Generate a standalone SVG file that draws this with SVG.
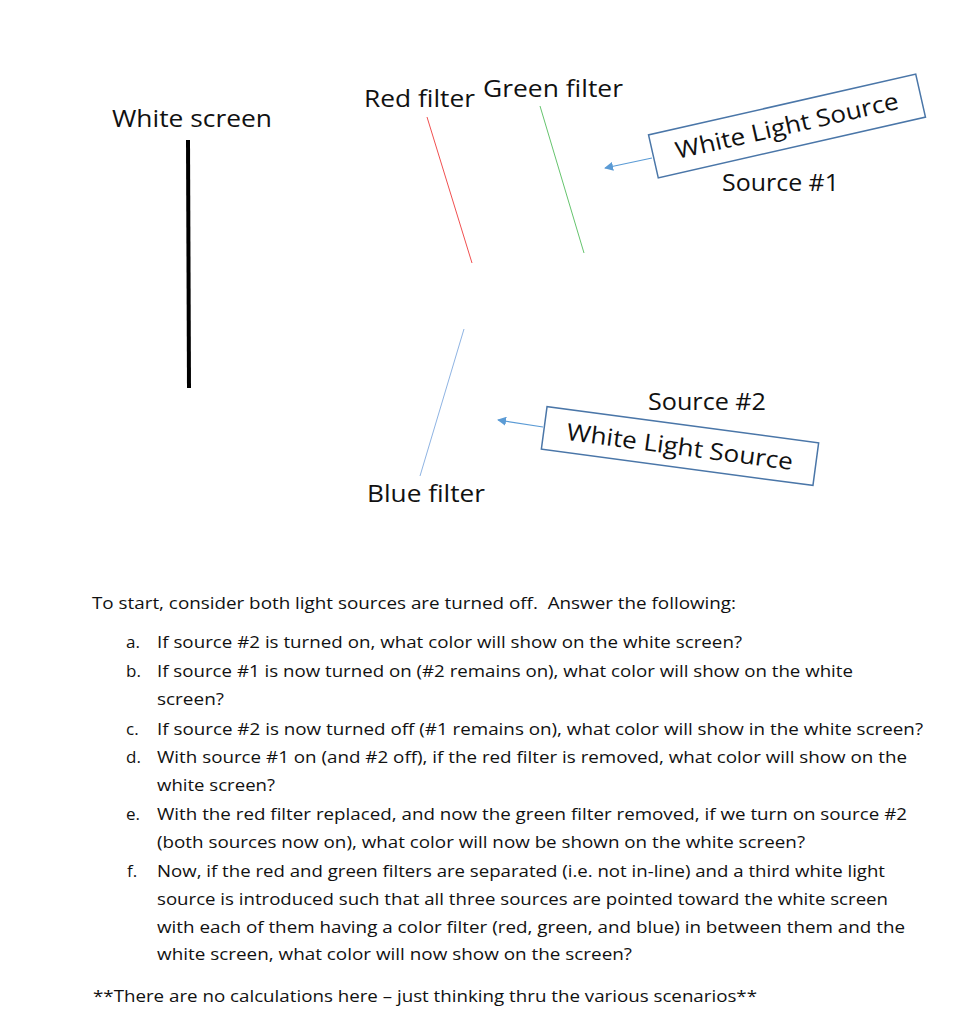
<svg xmlns="http://www.w3.org/2000/svg" width="961" height="1024" viewBox="0 0 961 1024">
<style>
.lbl{font-family:"Open Sans",Lato,"Liberation Sans",sans-serif;font-size:23.5px;fill:#111;font-variant-ligatures:none;}
.body{font-family:"Open Sans",Lato,"Liberation Sans",sans-serif;font-size:17px;fill:#111;white-space:pre;font-variant-ligatures:none;}
.box{fill:#fff;stroke:#4a76a8;stroke-width:1.5;}
.arr{stroke:#5b9bd5;stroke-width:1.2;fill:none;marker-end:url(#ah);}
</style>
<defs>
<marker id="ah" viewBox="0 0 10 10" refX="9" refY="5" markerWidth="9" markerHeight="9" markerUnits="userSpaceOnUse" orient="auto">
<path d="M0,0 L10,5 L0,10 z" fill="#5b9bd5"/>
</marker>
</defs>
<rect width="961" height="1024" fill="#fff"/>

<g id="screen">
<line x1="188" y1="140" x2="189" y2="388" stroke="#000" stroke-width="4"/>
<text class="lbl" x="112" y="127" textLength="160" lengthAdjust="spacingAndGlyphs">White screen</text>
</g>

<g id="red-filter">
<line x1="427" y1="117" x2="472" y2="263" stroke="#f05050" stroke-width="1"/>
<text class="lbl" x="364" y="107" textLength="111" lengthAdjust="spacingAndGlyphs">Red filter</text>
</g>

<g id="green-filter">
<line x1="540" y1="106" x2="584" y2="253" stroke="#66c46e" stroke-width="1"/>
<text class="lbl" x="483" y="97" textLength="140" lengthAdjust="spacingAndGlyphs">Green filter</text>
</g>

<g id="blue-filter">
<line x1="464" y1="329" x2="420" y2="476" stroke="#8fb4e3" stroke-width="1"/>
<text class="lbl" x="367" y="502" textLength="118" lengthAdjust="spacingAndGlyphs">Blue filter</text>
</g>

<g id="source1">
<g transform="translate(787,126) rotate(-12.8)">
<rect class="box" x="-137" y="-22" width="274" height="44"/>
<text class="lbl" x="0" y="8" text-anchor="middle" textLength="228" lengthAdjust="spacingAndGlyphs">White Light Source</text>
</g>
<text class="lbl" x="722" y="191" textLength="117" lengthAdjust="spacingAndGlyphs">Source #1</text>
</g>

<g id="source2">
<g transform="translate(680,446) rotate(7.6)">
<rect class="box" x="-137" y="-21.5" width="274" height="43"/>
<text class="lbl" x="0" y="9" text-anchor="middle" textLength="228" lengthAdjust="spacingAndGlyphs">White Light Source</text>
</g>
<text class="lbl" x="648" y="410" textLength="118" lengthAdjust="spacingAndGlyphs">Source #2</text>
</g>

<g id="connectors">
<line class="arr" x1="652" y1="158" x2="605" y2="168"/>
<line class="arr" x1="543" y1="427" x2="498" y2="420"/>
</g>

<g id="questions">
<text class="body" x="92" y="609" textLength="644" lengthAdjust="spacingAndGlyphs">To start, consider both light sources are turned off.  Answer the following:</text>
<text class="body" x="126" y="648">a.</text>
<text class="body" x="157" y="648" textLength="585" lengthAdjust="spacingAndGlyphs">If source #2 is turned on, what color will show on the white screen?</text>
<text class="body" x="126" y="677">b.</text>
<text class="body" x="157" y="677" textLength="696" lengthAdjust="spacingAndGlyphs">If source #1 is now turned on (#2 remains on), what color will show on the white</text>
<text class="body" x="157" y="705" textLength="67" lengthAdjust="spacingAndGlyphs">screen?</text>
<text class="body" x="126" y="735">c.</text>
<text class="body" x="157" y="735" textLength="766" lengthAdjust="spacingAndGlyphs">If source #2 is now turned off (#1 remains on), what color will show in the white screen?</text>
<text class="body" x="126" y="763">d.</text>
<text class="body" x="157" y="763" textLength="750" lengthAdjust="spacingAndGlyphs">With source #1 on (and #2 off), if the red filter is removed, what color will show on the</text>
<text class="body" x="157" y="791" textLength="118" lengthAdjust="spacingAndGlyphs">white screen?</text>
<text class="body" x="126" y="820">e.</text>
<text class="body" x="157" y="820" textLength="750" lengthAdjust="spacingAndGlyphs">With the red filter replaced, and now the green filter removed, if we turn on source #2</text>
<text class="body" x="157" y="848" textLength="648" lengthAdjust="spacingAndGlyphs">(both sources now on), what color will now be shown on the white screen?</text>
<text class="body" x="127" y="877">f.</text>
<text class="body" x="157" y="877" textLength="728" lengthAdjust="spacingAndGlyphs">Now, if the red and green filters are separated (i.e. not in-line) and a third white light</text>
<text class="body" x="157" y="905" textLength="731" lengthAdjust="spacingAndGlyphs">source is introduced such that all three sources are pointed toward the white screen</text>
<text class="body" x="157" y="933" textLength="748" lengthAdjust="spacingAndGlyphs">with each of them having a color filter (red, green, and blue) in between them and the</text>
<text class="body" x="157" y="960" textLength="475" lengthAdjust="spacingAndGlyphs">white screen, what color will now show on the screen?</text>
<text class="body" x="93" y="1002" textLength="664" lengthAdjust="spacingAndGlyphs">**There are no calculations here – just thinking thru the various scenarios**</text>
</g>
</svg>
